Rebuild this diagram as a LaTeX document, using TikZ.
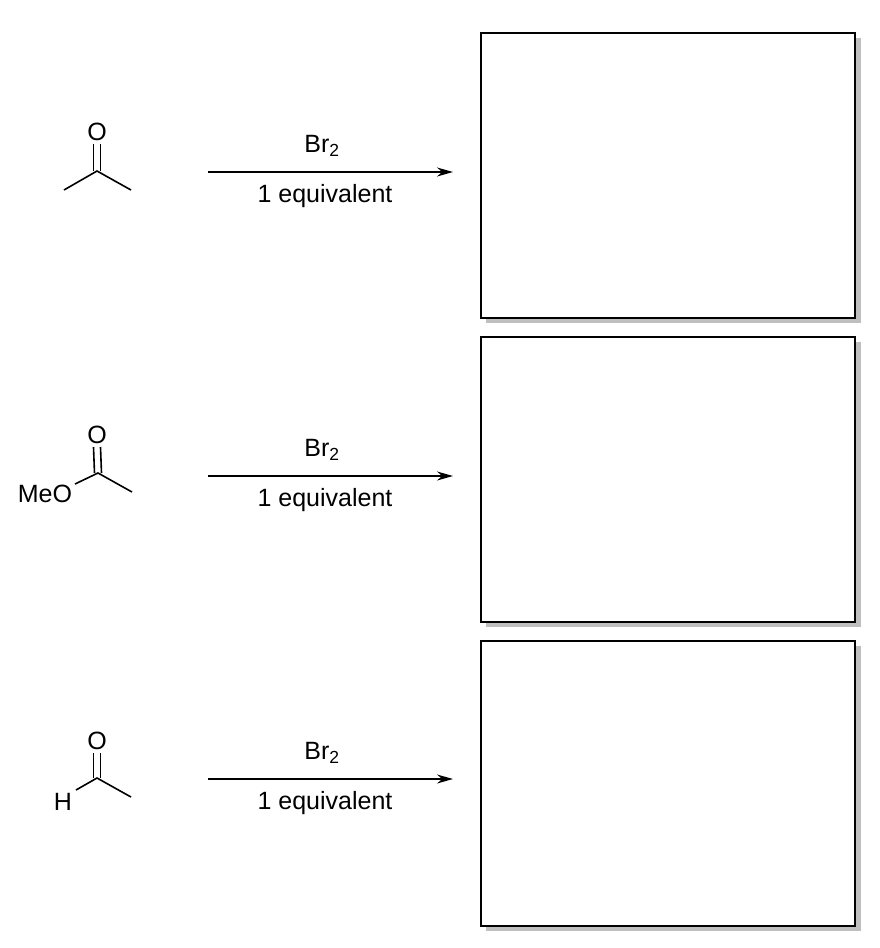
\documentclass[tikz,border=0pt]{standalone}
\usepackage{fontspec}
\setmainfont{Liberation Sans}
\usetikzlibrary{arrows.meta}
\begin{document}
\begin{tikzpicture}[x=1pt,y=-1pt,
  bond/.style={line width=1.6pt},
  lbl/.style={font=\fontsize{25}{28}\selectfont, inner sep=0pt},
  rxn/.style={line width=1.6pt,-{Stealth[length=16pt,width=9pt]}},
  prodbox/.style={draw,line width=1.6pt,fill=white},
  shadowbox/.style={fill=black!25}]
\useasboundingbox (0,0) rectangle (880,948);
% boxes
\foreach \n/\y in {1/33,2/337,3/641}{
  \fill[shadowbox] (486,\y+5) rectangle (861,\y+290);
  \draw[prodbox] (481,\y) rectangle (855,\y+285);
  \node (box\n) at (481,\y+142) {};
}
% arrows and labels
\foreach \n/\y in {1/172,2/476,3/779}{
  \coordinate (s\n) at (208,\y);
  \coordinate (e\n) at (453,\y);
  \draw[rxn] (s\n) -- (e\n);
  \node[lbl] (br\n) at (322,\y-26) {Br\textsubscript{2}};
  \node[lbl] (eq\n) at (325,\y+24) {1 equivalent};
}
% molecule 1: acetone
\node[lbl] (O1) at (97,132) {O};
\coordinate (C1) at (97,171);
\coordinate (L1) at (64,190);
\coordinate (R1) at (131,190);
\draw[bond] (L1) -- (C1) -- (R1);
\draw[bond] ([xshift=-3.5]C1) -- ([xshift=-3.5,yshift=-12]O1.center);
\draw[bond] ([xshift=3.5]C1) -- ([xshift=3.5,yshift=-12]O1.center);
% molecule 2: methyl acetate
\node[lbl] (O2) at (97,435) {O};
\coordinate (C2) at (98,473);
\coordinate (R2) at (132,492);
\node[lbl] (MeO) at (45,494) {MeO};
\coordinate (L2) at (75,484);
\draw[bond] (L2) -- (C2) -- (R2);
\draw[bond] ([xshift=-3.5]C2) -- ([xshift=-3.5,yshift=-12]O2.center);
\draw[bond] ([xshift=3.5]C2) -- ([xshift=3.5,yshift=-12]O2.center);
% molecule 3: acetaldehyde
\node[lbl] (O3) at (97,741) {O};
\coordinate (C3) at (97,778);
\coordinate (R3) at (131,797);
\node[lbl] (H) at (63,802) {H};
\coordinate (L3) at (76,790);
\draw[bond] (L3) -- (C3) -- (R3);
\draw[bond] ([xshift=-3.5]C3) -- ([xshift=-3.5,yshift=-12]O3.center);
\draw[bond] ([xshift=3.5]C3) -- ([xshift=3.5,yshift=-12]O3.center);
\end{tikzpicture}
\end{document}
